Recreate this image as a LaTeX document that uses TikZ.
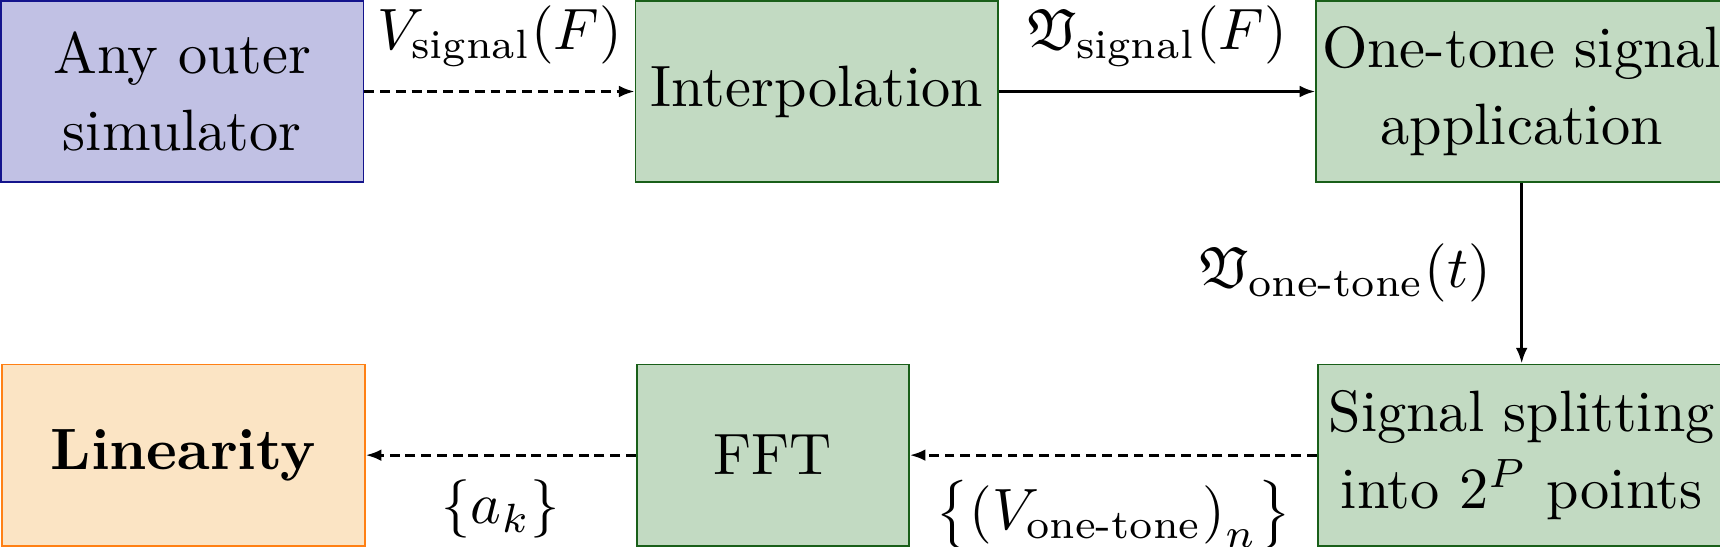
\documentclass[tikz,border=0pt]{standalone}
\usepackage{amsmath,amssymb}
\usetikzlibrary{arrows.meta,positioning}

\definecolor{simfill}{RGB}{193,193,228}
\definecolor{simline}{RGB}{20,20,140}
\definecolor{stepfill}{RGB}{194,218,194}
\definecolor{stepline}{RGB}{25,95,25}
\definecolor{outfill}{RGB}{251,228,196}
\definecolor{outline}{RGB}{255,128,20}

\begin{document}
\begin{tikzpicture}[
  block/.style={rectangle, draw=#1line, fill=#1fill, line width=0.3pt,
    minimum width=2.185cm, minimum height=1.092cm, inner sep=1pt, align=center,
    font=\fontsize{10pt}{13.2pt}\selectfont},
  arr/.style={-{Latex[length=2.7pt,width=2pt]}, line width=0.5pt},
  darr/.style={arr, dash pattern=on 1.7pt off 1pt},
  lbl/.style={inner sep=4pt}
]
\useasboundingbox (0,0) rectangle (10.361,-3.295);
\node[block=sim, anchor=north west] (sim) at (0,0) {Any outer\\simulator};
\node[block=step, right=1.628cm of sim] (interp) {Interpolation};
\node[block=step, minimum width=2.458cm, right=1.905cm of interp] (onetone) {One-tone signal\\application};
\node[block=step, minimum width=2.458cm, below=1.088cm of onetone] (split) {Signal splitting\\into $2^P$ points};
\node[block=step, minimum width=1.639cm, left=2.452cm of split] (fft) {FFT};
\node[block=out, left=1.628cm of fft] (lin) {\textbf{Linearity}};

\draw[darr] (sim) -- node[lbl, above] {$V_{\text{signal}}(F)$} (interp);
\draw[arr] (interp) -- node[lbl, above] {$\mathfrak{V}_{\text{signal}}(F)$} (onetone);
\draw[arr] (onetone) -- node[lbl, left=1pt] {$\mathfrak{V}_{\text{one-tone}}(t)$} (split);
\draw[darr] (split) -- node[lbl, below] {$\bigl\{\left(V_{\text{one-tone}}\right)_n\bigr\}$} (fft);
\draw[darr] (fft) -- node[lbl, below] {$\left\{a_k\right\}$} (lin);
\end{tikzpicture}
\end{document}
